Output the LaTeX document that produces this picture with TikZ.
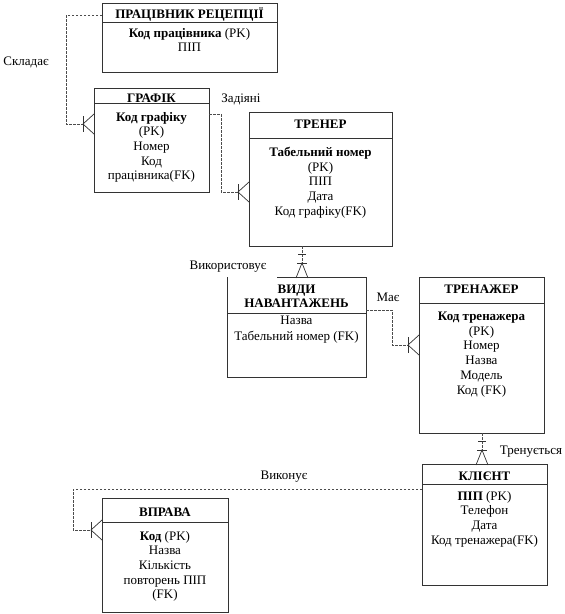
\documentclass[tikz,border=0pt]{standalone}
\usepackage{fontspec}
\setmainfont{Liberation Serif}
\usetikzlibrary{fit}

\tikzset{
  erbox/.style={draw=black!80, line width=0.9pt, inner sep=0pt, outer sep=0pt},
  sepline/.style={draw=black!80, line width=0.9pt},
  ttl/.style={font=\fontsize{13}{14.7}\selectfont\bfseries, inner sep=0pt, align=center},
  bodytext/.style={font=\fontsize{13}{14.7}\selectfont, inner sep=0pt, align=center, anchor=north},
  lbl/.style={font=\fontsize{13}{14}\selectfont, inner sep=0pt, anchor=base},
  rel/.style={draw=black!70, line width=0.7pt, dash pattern=on 2.5pt off 1.5pt},
  foot/.style={draw=black!80, line width=0.7pt},
}

\newcommand\erbox[6]{%
  \coordinate (#1-nw) at (#2,#3);
  \coordinate (#1-se) at (#4,#5);
  \node[erbox, fit=(#1-nw)(#1-se)] (#1) {};
  \draw[sepline] (#1.west |- 0,#6) -- (#1.east |- 0,#6);
}
% crow's foot on a left edge at named point #1
\newcommand\crowL[1]{%
  \draw[foot] ([xshift=-11pt,yshift=8pt]#1) -- ([xshift=-11pt,yshift=-8pt]#1);
  \draw[foot] ([yshift=10pt]#1) -- ([xshift=-11pt]#1) -- ([yshift=-10pt]#1);
}
% one-to-many mark going down from #1 to #2
\newcommand\crowD[2]{%
  \draw[rel] (#1) -- ([yshift=-17pt]#1);
  \draw[foot] ([xshift=-4pt,yshift=-8pt]#1) -- ([xshift=4pt,yshift=-8pt]#1);
  \draw[foot] ([xshift=-5pt,yshift=-17pt]#1) -- ([xshift=5pt,yshift=-17pt]#1);
  \draw[foot] ([xshift=-6pt,yshift=-1pt]#2) -- ([yshift=-17pt]#1) -- ([xshift=6pt,yshift=-1pt]#2);
}

\begin{document}
\begin{tikzpicture}[x=1pt,y=-1pt]
\useasboundingbox (0,0) rectangle (565,614);

% boxes
\erbox{prac}{102}{3}{277}{72}{22}
\erbox{graf}{94}{88}{209}{192}{103}
\erbox{tren}{249}{112}{392}{246}{138}
\erbox{trenazh}{419}{277}{544}{433}{303}
\erbox{klient}{422}{464}{547}{585}{484}
\erbox{vprava}{102}{498}{228}{612}{522}

\coordinate (vydy-nw) at (227,277);
\coordinate (vydy-se) at (366,377);
\node[inner sep=0pt, outer sep=0pt, fit=(vydy-nw)(vydy-se)] (vydy) {};
\draw[sepline] ([xshift=50pt]vydy.north west) -- (vydy.north east) -- (vydy.south east) -- (vydy.south west) -- (vydy.north west);
\draw[sepline] (vydy.west |- 0,313) -- (vydy.east |- 0,313);

% titles
\node[ttl, anchor=base] (prac-t) at (189.5,18.3) {ПРАЦІВНИК РЕЦЕПЦІЇ};
\node[ttl, anchor=base] (graf-t) at (151.5,102.2) {ГРАФІК};
\node[ttl, anchor=base] (tren-t) at (320.5,128.3) {ТРЕНЕР};
\node[ttl, anchor=north, font=\fontsize{13}{14}\selectfont\bfseries] (vydy-t) at (296.5,284.7) {ВИДИ\\НАВАНТАЖЕНЬ};
\node[ttl, anchor=base] (trenazh-t) at (481.5,293.3) {ТРЕНАЖЕР};
\node[ttl, anchor=base] (klient-t) at (484.5,480.3) {КЛІЄНТ};
\node[ttl, anchor=base] (vprava-t) at (165,516.3) {ВПРАВА};

% bodies
\node[bodytext] (prac-b) at (189.5,27.8) {\textbf{Код працівника} (PK)\\ПІП};
\node[bodytext] (graf-b) at (151.5,111.8) {\textbf{Код графіку}\\(PK)\\Номер\\Код\\працівника(FK)};
\node[bodytext] (tren-b) at (320.5,146.8) {\textbf{Табельний номер}\\(PK)\\ПІП\\Дата\\Код графіку(FK)};
\node[bodytext, font=\fontsize{13}{16}\selectfont] (vydy-b) at (296.5,315.8) {Назва\\Табельний номер (FK)};
\node[bodytext] (trenazh-b) at (481.5,311.8) {\textbf{Код тренажера}\\(PK)\\Номер\\Назва\\Модель\\Код (FK)};
\node[bodytext] (klient-b) at (484.5,490.8) {\textbf{ПІП} (PK)\\Телефон\\Дата\\Код тренажера(FK)};
\node[bodytext] (vprava-b) at (165,530.8) {\textbf{Код} (PK)\\Назва\\Кількість\\повторень ПІП\\(FK)};

% relationship labels
\node[lbl] (l-skl) at (26,65.5) {Складає};
\node[lbl] (l-zad) at (241,102.5) {Задіяні};
\node[lbl] (l-vyk) at (228,269.5) {Використовує};
\node[lbl] (l-mae) at (388,301.5) {Має};
\node[lbl] (l-tren) at (531,454.5) {Тренується};
\node[lbl] (l-vykon) at (284,479.5) {Виконує};

% connectors
\coordinate (a1) at (prac.west |- 0,15);
\coordinate (a2) at (graf.west |- 0,124);
\draw[rel] (a1) -| ([xshift=-28pt]a2) -- ([xshift=-11pt]a2);
\crowL{a2}

\coordinate (b1) at (graf.east |- 0,114);
\coordinate (b2) at (tren.west |- 0,192);
\draw[rel] (b1) -| ([xshift=-28pt]b2) -- ([xshift=-11pt]b2);
\crowL{b2}

\coordinate (c1) at (tren.south -| 302,0);
\coordinate (c2) at (vydy.north -| 302,0);
\crowD{c1}{c2}

\coordinate (d1) at (vydy.east |- 0,310);
\coordinate (d2) at (trenazh.west |- 0,345);
\draw[rel] (d1) -| ([xshift=-27pt]d2) -- ([xshift=-11pt]d2);
\crowL{d2}

\coordinate (e1) at (trenazh.south -| 482,0);
\coordinate (e2) at (klient.north -| 482,0);
\crowD{e1}{e2}

\coordinate (f1) at (klient.west |- 0,489);
\coordinate (f2) at (vprava.west |- 0,530);
\draw[rel] (f1) -| ([xshift=-29pt]f2) -- ([xshift=-11pt]f2);
\crowL{f2}
\end{tikzpicture}
\end{document}
